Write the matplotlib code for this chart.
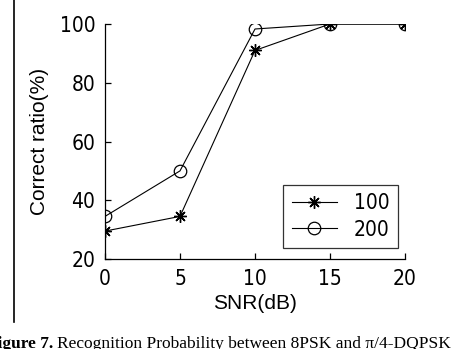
import matplotlib
matplotlib.use("Agg")
import matplotlib.pyplot as plt
from matplotlib.lines import Line2D
from matplotlib.font_manager import FontProperties

# data
snr = [0, 5, 10, 15, 20]
ratio_100 = [29.5, 34.5, 91, 100, 100]
ratio_200 = [34.5, 50, 98.3, 100, 100]
xticks = [0, 5, 10, 15, 20]
yticks = [20, 40, 60, 80, 100]

plt.rcParams['font.family'] = ['Liberation Sans', 'DejaVu Sans']
num_font = FontProperties(family='DejaVu Sans', stretch='condensed', size=15)

fig = plt.figure(figsize=(4.74, 3.49), dpi=100)
ax = fig.add_axes([105 / 474, 1 - 259 / 349, 300 / 474, 235 / 349])

ax.plot(snr, ratio_100, color='black', lw=0.8, marker=(8, 2, 0), ms=9, mew=1.0, label='100')
ax.plot(snr, ratio_200, color='black', lw=0.8, marker='o', ms=9, mew=0.9,
        mfc='none', label='200')

ax.set_xlim(0, 20)
ax.set_ylim(20, 100)
ax.set_xticks(xticks)
ax.set_yticks(yticks)
for s in ['top', 'right']:
    ax.spines[s].set_visible(False)
for s in ['left', 'bottom']:
    ax.spines[s].set_linewidth(0.9)
ax.tick_params(direction='in', length=4, width=0.9, pad=7)
for lab in ax.get_xticklabels() + ax.get_yticklabels():
    lab.set_fontproperties(num_font)

ax.set_xlabel('SNR(dB)', fontsize=15, labelpad=4)
ax.set_ylabel('Correct ratio(%)', fontsize=15, labelpad=8)

leg = ax.legend(loc='lower right', bbox_to_anchor=(0.977, 0.047), prop=num_font,
                frameon=True, fancybox=False, edgecolor='black', handlelength=2.2,
                borderpad=0.4, labelspacing=0.3, handletextpad=0.8, borderaxespad=0)
leg.get_frame().set_linewidth(0.9)

# page border line on the left
fig.add_artist(Line2D([14 / 474, 14 / 474], [1 - 322 / 349, 1], color='black', lw=1.2))

# caption, clipped at the left and bottom like the scan
fig.canvas.draw()
r = fig.canvas.get_renderer()
t1 = fig.text(-13 / 474, 0.003, 'Figure 7.', family='Liberation Serif', weight='bold',
              fontsize=12.5, va='baseline')
bb = t1.get_window_extent(renderer=r)
fig.text((bb.x1 + 4) / 474, 0.003, 'Recognition Probability between 8PSK and \u03c0/4-DQPSK',
         family='Liberation Serif', fontsize=12.5, va='baseline')

fig.savefig('out.png', dpi=100)
